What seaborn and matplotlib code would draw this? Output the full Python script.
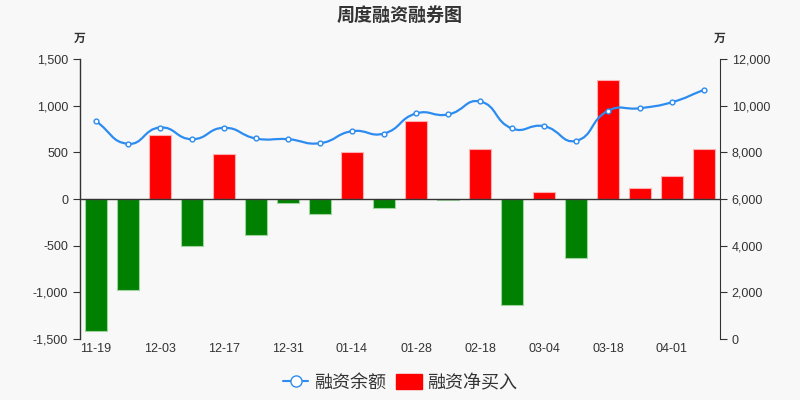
import matplotlib
matplotlib.use("Agg")
import matplotlib.pyplot as plt
import seaborn as sns
import numpy as np
import pandas as pd
from matplotlib.path import Path
from matplotlib.patches import PathPatch, Patch
from matplotlib.lines import Line2D
from matplotlib.ticker import FuncFormatter, FixedLocator, NullFormatter

# data (万)
dates = ["11-19", "11-26", "12-03", "12-10", "12-17", "12-24", "12-31", "01-07",
         "01-14", "01-21", "01-28", "02-11", "02-18", "02-25", "03-04", "03-11",
         "03-18", "03-25", "04-01", "04-08"]
net_buy = [-1415, -970, 690, -505, 487, -384, -41, -159, 505, -98,
           837, -15, 537, -1141, 80, -630, 1277, 123, 244, 537]
balance = [9334, 8366, 9064, 8563, 9051, 8593, 8563, 8392, 8906, 8807,
           9665, 9622, 10179, 9022, 9120, 8494, 9780, 9892, 10149, 10680]

sns.set_style("white")
plt.rcParams["font.family"] = ["Noto Sans CJK SC", "DejaVu Sans"]
plt.rcParams["axes.unicode_minus"] = False

bg = "#f8f8f8"
txt = "#333333"
red, green, blue = "#ff0000", "#008000", "#2d8cf0"
num_font = ["Liberation Sans", "DejaVu Sans"]

df = pd.DataFrame({"date": dates, "net": net_buy, "bal": balance})
df["sign"] = np.where(df["net"] >= 0, "up", "down")

fig = plt.figure(figsize=(8, 4), dpi=100, facecolor=bg)
ax = fig.add_axes([0.1, 0.1525, 0.8, 0.70])
ax.set_facecolor(bg)

sns.barplot(data=df, x="date", y="net", hue="sign",
            palette={"up": red, "down": green}, dodge=False, width=0.68,
            legend=False, ax=ax, saturation=1)
for p in ax.patches:
    fc = p.get_facecolor()
    p.set_edgecolor("#ffb0b0" if fc[0] > 0.5 else "#9fd49f")
    p.set_linewidth(0.8)

ax.set_xlim(-0.5, len(dates) - 0.5)
ax.set_ylim(-1500, 1500)
ax.set_yticks(range(-1500, 1501, 500))
ax.yaxis.set_major_formatter(FuncFormatter(lambda v, _: f"{int(v):,}"))
ax.set_xlabel("")
ax.set_ylabel("")

# x axis on the zero line, ticks between categories
ax.spines["bottom"].set_position(("data", 0))
ax.spines["top"].set_visible(False)
ax.spines["right"].set_visible(False)
for s in ("left", "bottom"):
    ax.spines[s].set_color(txt)
    ax.spines[s].set_linewidth(1)
ax.xaxis.set_major_locator(FixedLocator(np.arange(-0.5, len(dates), 2)))
ax.xaxis.set_major_formatter(NullFormatter())
ax.tick_params(axis="x", which="major", length=5, color=txt, direction="out")
ax.tick_params(axis="y", length=5, color=txt, labelsize=9, labelcolor=txt)
for lbl in ax.get_yticklabels():
    lbl.set_family(num_font)

# category labels at the bottom of the plot area, every other week
trans = matplotlib.transforms.blended_transform_factory(ax.transData, ax.transAxes)
for i in range(0, len(dates), 2):
    ax.text(i, -0.015, dates[i], transform=trans, ha="center", va="top",
            fontsize=9, color=txt, family=num_font)

ax2 = ax.twinx()
ax2.set_ylim(0, 12000)
ax2.set_yticks(range(0, 12001, 2000))
ax2.yaxis.set_major_formatter(FuncFormatter(lambda v, _: f"{int(v):,}"))
for s in ("left", "top", "bottom"):
    ax2.spines[s].set_visible(False)
ax2.spines["right"].set_color(txt)
ax2.tick_params(axis="y", length=5, color=txt, labelsize=9, labelcolor=txt)
for lbl in ax2.get_yticklabels():
    lbl.set_family(num_font)
ax2.set_ylabel("")

# smooth line (echarts-like bezier) through the balance points
xs = np.arange(len(balance), dtype=float)
ys = np.array(balance, dtype=float)
px, py = xs * 32.0, ys / 42.86
cps = []
for i in range(len(xs)):
    a = max(i - 1, 0)
    b = min(i + 1, len(xs) - 1)
    vx, vy = px[b] - px[a], py[b] - py[a]
    d0 = np.hypot(px[i] - px[a], py[i] - py[a])
    d1 = np.hypot(px[b] - px[i], py[b] - py[i])
    tot = d0 + d1 if d0 + d1 > 0 else 1
    c0 = (px[i] - vx * 0.5 * d0 / tot, py[i] - vy * 0.5 * d0 / tot)
    c1 = (px[i] + vx * 0.5 * d1 / tot, py[i] + vy * 0.5 * d1 / tot)
    cps.append((c0, c1))
verts = [(xs[0], ys[0])]
codes = [Path.MOVETO]
for i in range(1, len(xs)):
    c1 = cps[i - 1][1]
    c0 = cps[i][0]
    verts += [(c1[0] / 32.0, c1[1] * 42.86), (c0[0] / 32.0, c0[1] * 42.86), (xs[i], ys[i])]
    codes += [Path.CURVE4] * 3
ax2.add_patch(PathPatch(Path(verts, codes), facecolor="none", edgecolor=blue, lw=1.6))
sns.scatterplot(x=xs, y=ys, ax=ax2, s=12, color="white", edgecolor=blue,
                linewidth=1, zorder=5, legend=False)

fig.text(0.5, 0.962, "周度融资融券图", ha="center", va="center",
         fontsize=13, fontweight="bold", color=txt)
fig.text(0.1, 0.905, "万", ha="center", va="center", fontsize=8.5,
         fontweight="bold", color=txt)
fig.text(0.9, 0.905, "万", ha="center", va="center", fontsize=8.5,
         fontweight="bold", color=txt)

handles = [Line2D([0], [0], color=blue, lw=1.5, marker="o", markersize=8,
                  markerfacecolor="white", markeredgecolor=blue),
           Patch(facecolor=red, edgecolor=red)]
fig.legend(handles, ["融资余额", "融资净买入"], loc="center",
           bbox_to_anchor=(0.5, 0.042), ncol=2, frameon=False, fontsize=13,
           handlelength=1.4, handleheight=0.9, columnspacing=0.6,
           handletextpad=0.3, labelcolor=txt)

fig.savefig("out.png", dpi=100, facecolor=bg)
